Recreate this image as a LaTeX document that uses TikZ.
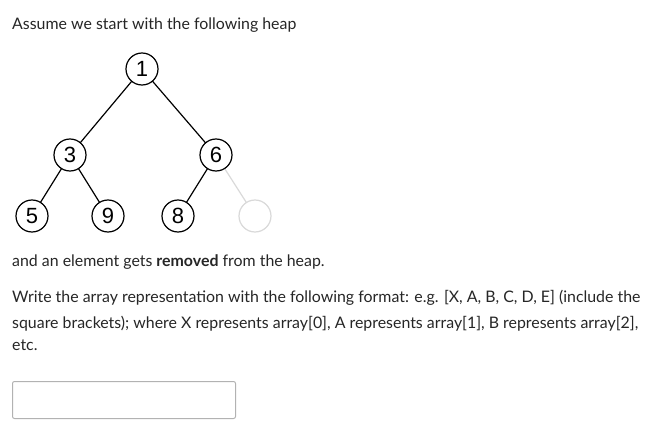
\documentclass[tikz,border=0pt]{standalone}
\usepackage{fontspec}
\setmainfont{Lato}
\newfontfamily\numfont{Liberation Sans}
\begin{document}
\begin{tikzpicture}[x=1pt,y=-1pt,
  hn/.style={circle,draw=black,line width=1.2pt,minimum size=32pt,inner sep=0pt,font=\numfont\fontsize{22}{22}\selectfont,fill=white},
  en/.style={circle,draw=black!15,line width=1.2pt,minimum size=32pt,inner sep=0pt,fill=white},
  edge/.style={line width=1.2pt},
  txt/.style={anchor=base west,inner sep=0pt,font=\fontsize{15.9}{18}\selectfont,text=black!85}]
\useasboundingbox (0,0) rectangle (657,433);
\draw[edge] (142,69) -- (70,155) (142,69) -- (216,155)
  (70,155) -- (32,216) (70,155) -- (108,216) (216,155) -- (178,216);
\draw[edge,black!15] (216,155) -- (255,216);
\node[hn] (n1) at (142,69) {1};
\node[hn] (n3) at (70,155) {3};
\node[hn] (n6) at (216,155) {6};
\node[hn] (n5) at (32,216) {5};
\node[hn] (n9) at (108,216) {9};
\node[hn] (n8) at (178,216) {8};
\node[en] (ne) at (255,216) {};
\node[txt] (t1) at (12,30) {Assume we start with the following heap};
\node[txt] (t2) at (12,267) {and an element gets \textbf{removed} from the heap.};
\node[txt] (t3) at (12,303) {Write the array representation with the following format: e.g. [X, A, B, C, D, E] (include the};
\node[txt] (t4) at (12,328) {square brackets); where X represents array[0], A represents array[1], B represents array[2],};
\node[txt] (t5) at (12,351) {etc.};
\draw[black!30,line width=1pt,rounded corners=2pt] (12.5,381.5) rectangle (235.5,418.5);
\end{tikzpicture}
\end{document}
